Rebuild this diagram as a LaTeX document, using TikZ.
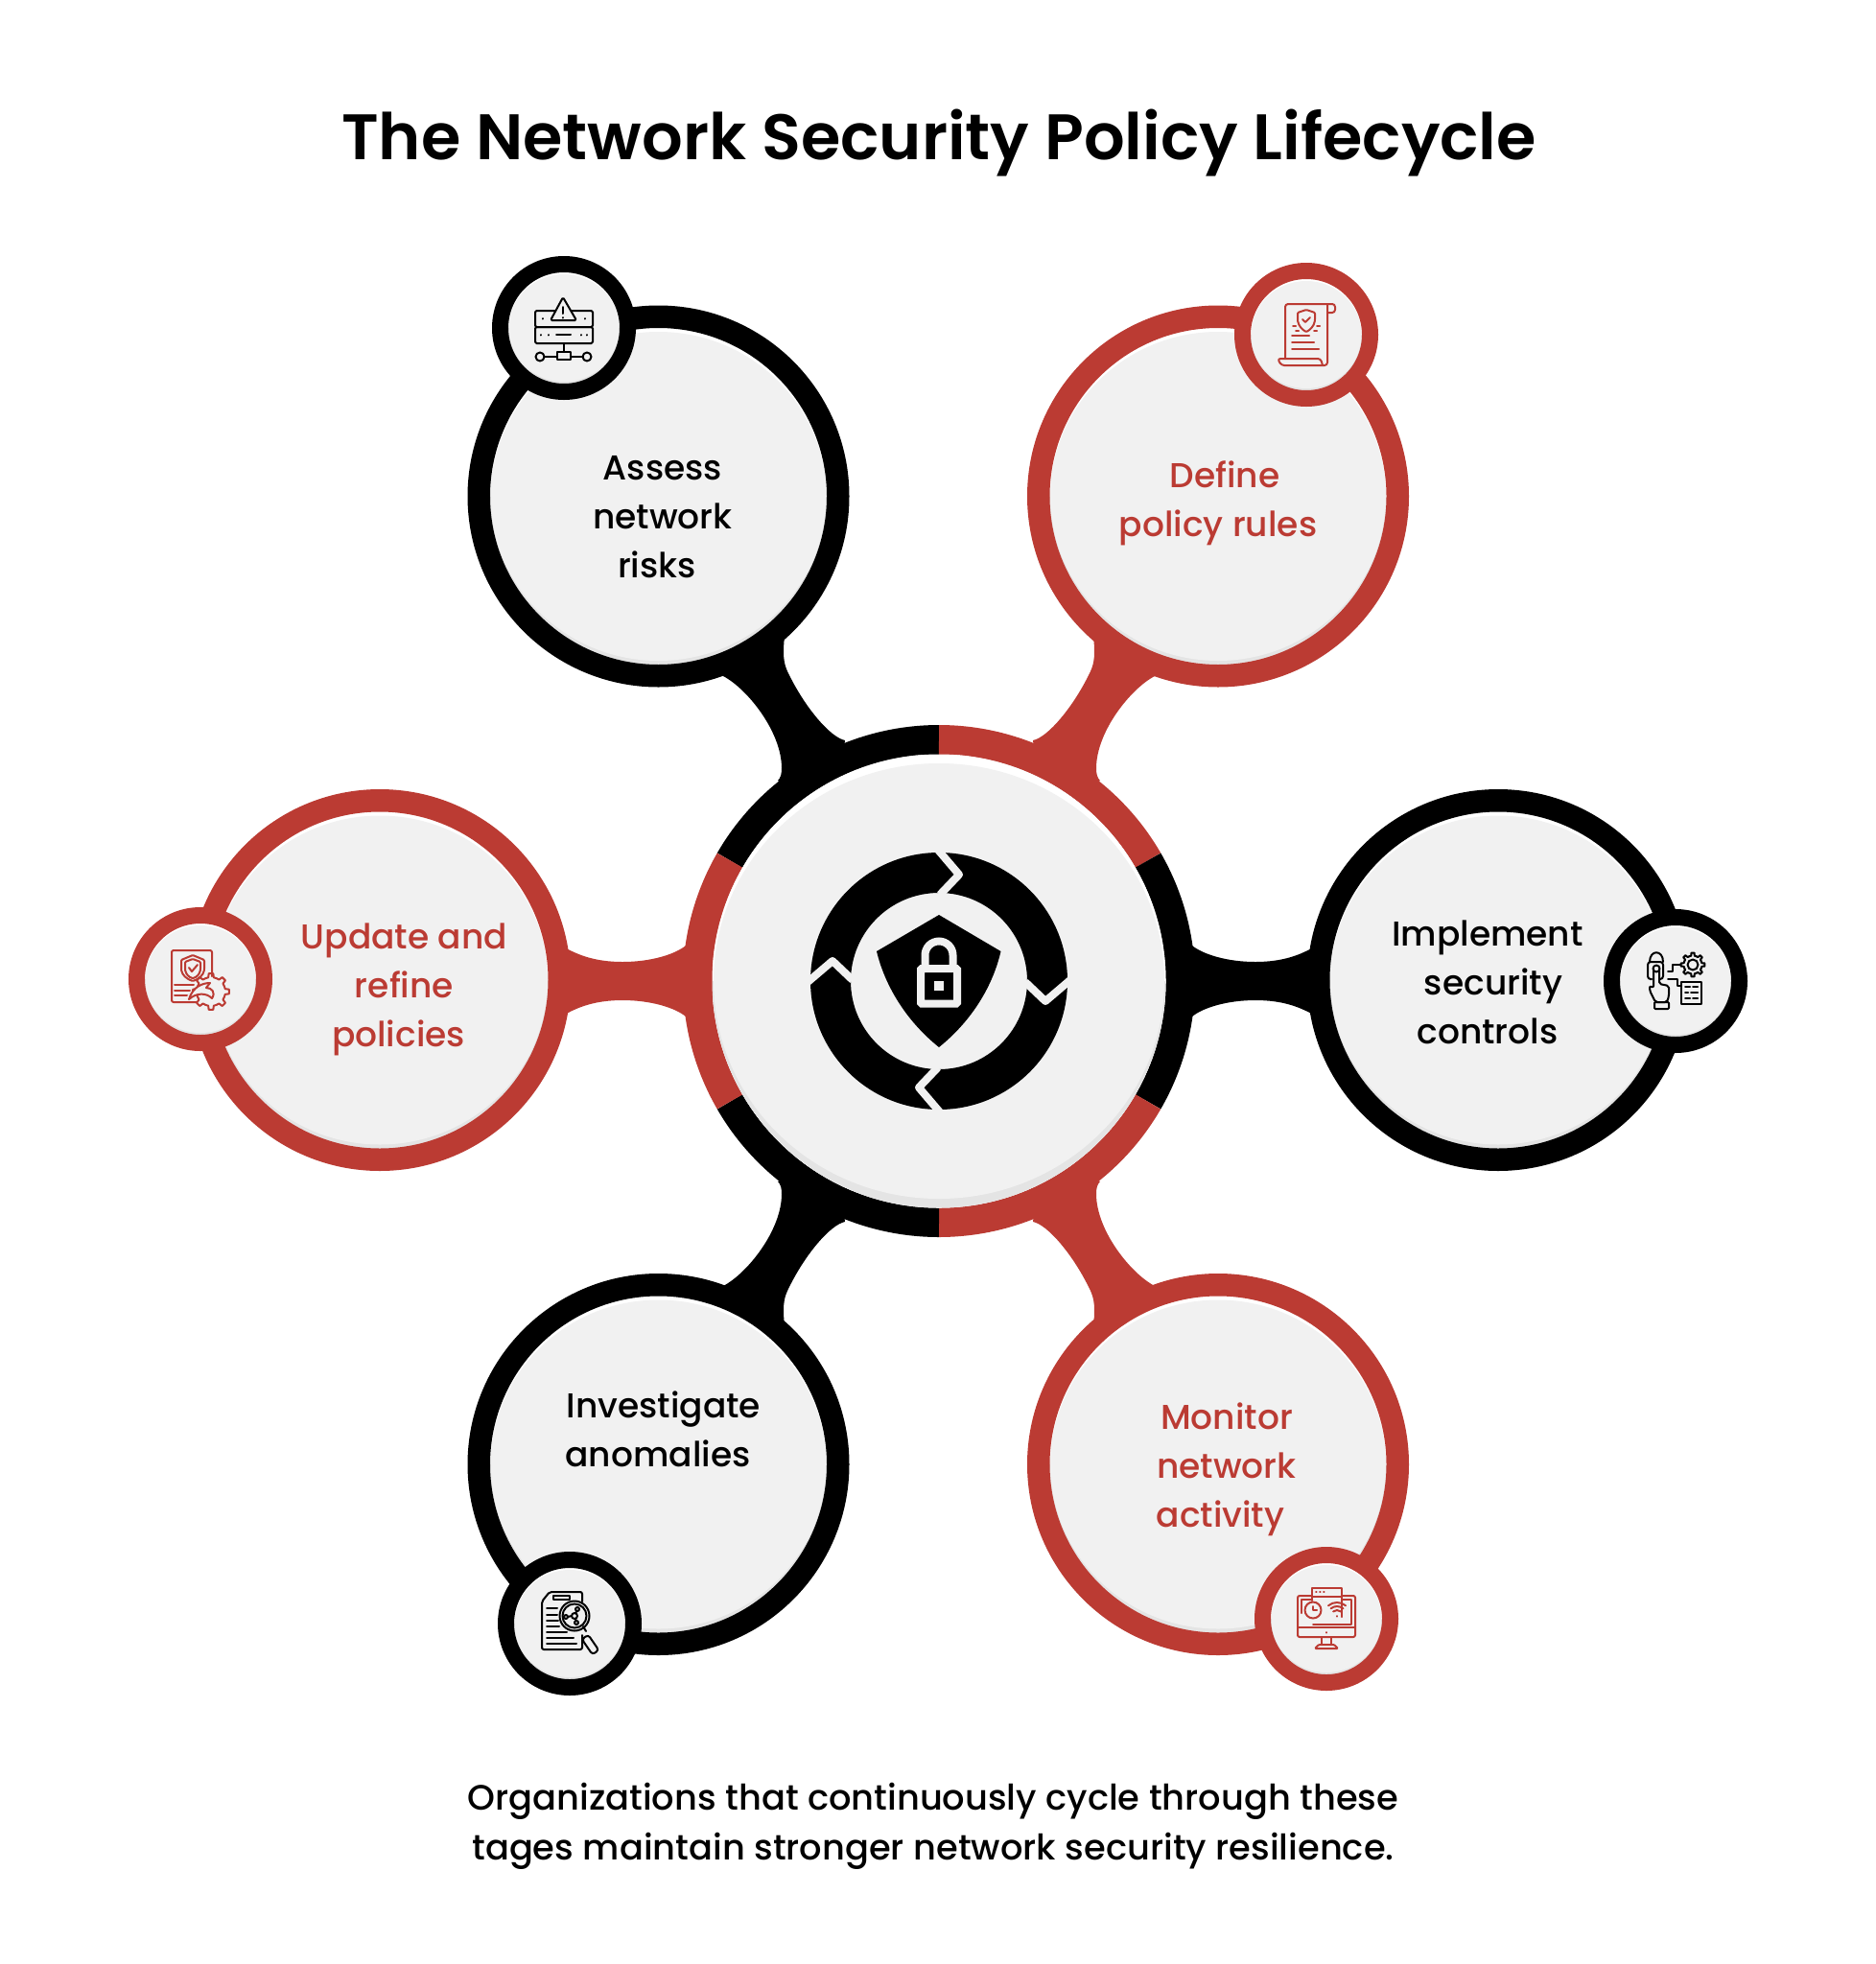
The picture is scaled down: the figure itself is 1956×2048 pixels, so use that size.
\documentclass[tikz,border=0pt]{standalone}
\usepackage{xcolor}
\usepackage{fontspec}
\newfontfamily\titlefont{Poppins SemiBold}
\newfontfamily\labelfont{Poppins Medium}
\definecolor{netred}{HTML}{BB3B33}
\definecolor{discgrey}{HTML}{F1F1F1}
\definecolor{discshade}{HTML}{E4E4E4}
\newcommand{\nudge}[2]{\hspace*{#1pt}#2}
\newcommand{\gearicon}[4]{%
	\begin{scope}[shift={(#1,#2)}]
		\fill[discgrey] (0,0) circle (#3);
		\foreach \a in {0,45,...,315}
			\draw[iconline] (\a-22.5:#3) -- (\a-11:#3) -- (\a-7:#4) -- (\a+7:#4) -- (\a+11:#3) -- (\a+22.5:#3);
	\end{scope}
}
\tikzset{
	% x radius and y radius of the flat top of a disc
	disc/.style n args={2}{circle, inner sep=0pt, fill=discgrey, path picture={
		\fill[white] (path picture bounding box.south west) rectangle (path picture bounding box.north east);
		\fill[discshade] (path picture bounding box.west) rectangle (path picture bounding box.south east);
		\fill[discgrey] (path picture bounding box.center) ellipse [x radius=#1pt, y radius=#2pt];
	}},
	satring/.style={disc={175}{171.5}, minimum size=374.5pt, line width=23.5pt, draw=#1},
	iconring/.style={disc={57.5}{56}, minimum size=133pt, line width=17pt, draw=#1},
	steplabel/.style={align=center, font=\labelfont\fontsize{36}{51}\selectfont, text=#1},
	iconline/.style={line width=2pt, line join=round, line cap=round},
	pics/riskicon/.style={code={
		\draw[iconline, rounded corners=1.5pt] (-30,-18) rectangle (30,-1);
		\draw[iconline, rounded corners=1.5pt] (-30,-1) rectangle (30,16);
		\draw[iconline, fill=discgrey, rounded corners=1.5pt] (-1,-32) -- (-14,-8) -- (13,-8) -- cycle;
		\draw[iconline] (-1,-22) -- (-1,-15) (-1,-11) -- (-1,-10.5);
		\draw[iconline] (-22,-10) -- (-22,-9.5) (22,-10) -- (22,-9.5) (-24,7) -- (-24,7.5) (-16,7) -- (-16,7.5) (18,7) -- (18,7.5) (24,7) -- (24,7.5);
		\draw[iconline] (-8,7) -- (7,7);
		\draw[iconline] (0,16) -- (0,25);
		\draw[iconline] (-7,25) rectangle (7,33);
		\draw[iconline] (-20,30) -- (-7,30) (7,30) -- (20,30);
		\draw[iconline] (-25,30) circle (4.5) (24,30) circle (4.5);
	}},
	pics/scrollicon/.style={code={
		\draw[iconline, rounded corners=3pt] (-22,25) -- (-22,-32) -- (30,-32) -- (30,-23) -- (22,-23);
		\draw[iconline, rounded corners=3pt] (22,-32) -- (22,32) -- (-26,32) -- (-30,25) -- (15,25) -- (17,32);
		\draw[iconline, rounded corners=1pt] (0,-26) -- (-9,-23) -- (-9,-15) .. controls (-8,-9) and (-4,-5) .. (0,-3) .. controls (4,-5) and (8,-9) .. (9,-15) -- (9,-23) -- cycle;
		\draw[iconline] (-4,-16) -- (-1,-13) -- (4,-18);
		\draw[iconline] (-14,-9) -- (-11,-9) (11,-9) -- (14,-9) (-11,-4) -- (-8,-4) (8,-4) -- (11,-4);
		\draw[iconline] (-15,1) -- (3,1) (-15,8) -- (8,8) (-15,15) -- (13,15);
	}},
	pics/controlicon/.style={code={
		\draw[iconline, rounded corners=3pt] (-17,-2) -- (-13,-2) -- (-13,-20) -- (-29,-20) -- (-29,-2) -- (-25,-2);
		\draw[iconline] (-27,-20) .. controls (-27,-33) and (-13,-33) .. (-13,-20);
		\draw[iconline] (-20,-13) circle (3.5);
		\draw[iconline, rounded corners=2pt] (-23,-12) -- (-23,7) -- (-27,5) -- (-27,10) -- (-21,22) -- (-9,22) -- (-7,16) -- (-7,5) -- (-17,3) -- (-17,-12);
		\draw[iconline, rounded corners=1pt] (-22,22) rectangle (-7,29);
		\gearicon{18}{-17}{9.5}{12.5}
		\draw[iconline] (18,-17) circle (5.5);
		\draw[iconline] (6,1) rectangle (27,24);
		\draw[iconline] (10,6) -- (15,6) (18,6) -- (23,6) (10,12) -- (13,12) (16,12) -- (23,12) (10,18) -- (15,18) (18,18) -- (23,18);
		\draw[iconline] (-8,-10) -- (-3,-10) -- (-3,-17) -- (5,-17);
		\draw[iconline] (-8,-2) -- (2,-2) -- (2,5) -- (6,5);
	}},
	pics/refineicon/.style={code={
		\draw[iconline, rounded corners=2pt] (12,-3) -- (12,-30) -- (-30,-30) -- (-30,24) -- (-4,24);
		\draw[iconline, rounded corners=1pt] (-8,-25) -- (-20,-20) -- (-20,-10) .. controls (-19,-4) and (-14,0) .. (-8,2) .. controls (-2,0) and (3,-4) .. (4,-10) -- (4,-20) -- cycle;
		\draw[iconline, rounded corners=1pt] (-8,-21) -- (-16,-18) -- (-16,-10) .. controls (-15,-5) and (-12,-2) .. (-8,-1) .. controls (-4,-2) and (-1,-5) .. (0,-10) -- (0,-18) -- cycle;
		\draw[iconline] (-12,-12) -- (-9,-8) -- (-3,-15);
		\draw[iconline] (-27,6) -- (-7,6) (-27,12) -- (-11,12) (-27,17) -- (-14,17);
		\gearicon{11}{13}{15}{19}
		\draw[iconline, fill=discgrey] (-12,21) .. controls (-8,8) and (2,4) .. (10,4) -- (6,9) .. controls (12,9) and (16,14) .. (12,20) .. controls (6,14) and (-4,14) .. (-12,21);
	}},
	pics/screenicon/.style={code={
		\draw[iconline, rounded corners=2pt] (-30,-24) rectangle (30,19);
		\draw[iconline] (-30,9) -- (30,9);
		\draw[iconline] (-26,-6) -- (-26,-20) -- (-15,-20) (16,-20) -- (26,-20) -- (26,6) -- (-14,6);
		\draw[iconline, fill=discgrey] (-15,-23) -- (-15,-32) -- (16,-32) -- (16,-23);
		\draw[iconline] (-15,-23) -- (16,-23) (16,-23) -- (16,-2) (-15,-23) -- (-15,-19);
		\draw[iconline] (-11,-28) -- (-10.5,-28) (-7,-28) -- (-6.5,-28) (-3,-28) -- (-2.5,-28);
		\draw[iconline, fill=discgrey] (-14,-9) circle (8.5);
		\draw[iconline] (-14,-13) -- (-14,-9) -- (-10,-9);
		\draw[iconline] (11,-3) -- (11,-2.5);
		\foreach \r in {6,10,14}
			\draw[iconline] (11,-3) ++(-130:\r) arc[start angle=-130, end angle=-50, radius=\r];
		\draw[iconline] (0,14) -- (0,14.5);
		\draw[iconline] (-5,19) -- (-5,27) (5,19) -- (5,27);
		\draw[iconline, rounded corners=1pt] (-8,27) -- (8,27) -- (12,31) -- (-12,31) -- cycle;
	}},
	pics/searchicon/.style={code={
		\draw[iconline, rounded corners=2pt] (13,-23) -- (13,-33) -- (-21,-33) -- (-29,-23) -- (-29,27) -- (13,27) -- (13,12);
		\draw[iconline] (-17,-29) rectangle (0,-25);
		\draw[iconline] (-24,-16) -- (-13,-16) (-24,-9) -- (-13,-9) (-24,-3) -- (-12,-3) (-24,3) -- (-11,3) (-24,9) -- (-3,9) (-24,15) -- (4,15) (-24,21) -- (7,21);
		\draw[iconline, fill=discgrey] (5,-8) circle (15.5);
		\draw[iconline] (5,-8) circle (12.5);
		\draw[iconline, rounded corners=3pt] (19.3,11.7) -- (30.3,27.7) -- (23.7,32.3) -- (12.7,16.3) -- cycle;
		\draw[iconline] (14,3) -- (17,8);
		\draw[iconline] (5,-8) circle (3) (8,-15) circle (2) (-4,-7) circle (2) (7,-1) circle (2);
		\draw[iconline] (6,-11) -- (7.5,-13) (2,-8) -- (-2,-7) (6,-5) -- (6.7,-3);
	}},
}
\begin{document}
\begin{tikzpicture}[x=1pt, y=-1pt]
	\useasboundingbox (0,0) rectangle (1956,2048);

	\node at (979,149) (title) {\titlefont\fontsize{67}{70}\selectfont The Network Security Policy Lifecycle};

	\begin{scope}[shift={(979,1023)}]
		% necks first, everything else sits on top of them
		\foreach \sx/\sy/\col in {1/1/black, -1/1/netred, -1/-1/netred, 1/-1/black}
			\fill[\col, xscale=\sx, yscale=\sy] (-98,-251) .. controls (-113,-254) and (-140,-285) .. (-158,-323) .. controls (-162,-332) and (-163,-340) .. (-161,-360) -- (-230,-330) -- (-225,-318) .. controls (-200,-305) and (-164,-260) .. (-164,-222) .. controls (-164,-216) and (-165,-212) .. (-168,-209) -- (-150,-200) -- (-100,-235) -- cycle;
		\foreach \sx/\col in {1/black, -1/netred}
			\fill[\col, xscale=\sx] (255,-38) -- (264,-37) .. controls (275,-28) and (300,-20) .. (330,-20) .. controls (360,-20) and (378,-28) .. (392,-36) -- (400,-36) -- (400,36) -- (392,36) .. controls (378,28) and (360,20) .. (330,20) .. controls (300,20) and (275,28) .. (264,37) -- (255,38) -- cycle;

		\foreach \a/\col in {-150/black, -90/netred, -30/black, 30/netred, 90/black, 150/netred}
			\draw[\col, line width=31pt] (\a:251.5) arc[start angle=\a, end angle=\a+60, radius=251.5];

		\node[disc={235}{227}, minimum size=473pt] at (0,0) (hub) {};

		% icon in the hub
		\foreach \a in {0,90,180,270}
			\fill[black, rotate=\a] (0,-134) arc[start angle=-90, end angle=0, radius=134] -- (92,0) arc[start angle=0, end angle=-90, radius=92] -- cycle;
		\foreach \a in {0,90,180,270}
			\draw[discgrey, line width=8pt, line join=round, rotate=\a] (-2,-138) -- (21,-111) -- (1,-90);
		\fill[black] (0,-69) -- (64.5,-31) .. controls (55,10) and (30,45) .. (0,69) .. controls (-30,45) and (-55,10) .. (-65,-31) -- cycle;
		\draw[discgrey, line width=8pt] (-14.5,-17) -- (-14.5,-27) arc[start angle=180, end angle=360, radius=14.5] -- (14.5,-17);
		\draw[discgrey, line width=8pt, rounded corners=1pt] (-19,-13) rectangle (19,23.5);
		\fill[discgrey] (-5,0) rectangle (5,9.5);
	\end{scope}

	\node[satring=black] at (686.5,517.5) (assess) {};
	\node[satring=netred] at (1270,517.5) (define) {};
	\node[satring=black] at (1562,1022) (implement) {};
	\node[satring=netred] at (396,1022) (update) {};
	\node[satring=black] at (686.5,1527) (investigate) {};
	\node[satring=netred] at (1270,1527) (monitor) {};

	\node[iconring=black] at (588,342) (assessicon) {};
	\node[iconring=netred] at (1362,349) (defineicon) {};
	\node[iconring=black] at (1747,1023) (implementicon) {};
	\node[iconring=netred] at (209,1021) (updateicon) {};
	\node[iconring=black] at (594,1693) (investigateicon) {};
	\node[iconring=netred] at (1383,1688) (monitoricon) {};

	\pic[color=black] at (assessicon.center) {riskicon};
	\pic[color=netred] at (defineicon.center) {scrollicon};
	\pic[color=black] at (implementicon.center) {controlicon};
	\pic[color=netred] at (updateicon.center) {refineicon};
	\pic[color=black] at (investigateicon.center) {searchicon};
	\pic[color=netred] at (monitoricon.center) {screenicon};

	\node[steplabel=black] at (689,539) (assesstext) {\nudge{4}{Assess}\\\nudge{4}{network}\\\nudge{-8}{risks}};
	\node[steplabel=netred] at (1270,525) (definetext) {\nudge{14}{Define}\\policy rules};
	\node[steplabel=black] at (1551,1024) (implementtext) {Implement\\\nudge{12}{security}\\controls};
	\node[steplabel=netred] at (420,1032) (updatetext) {\nudge{3}{Update and}\\\nudge{3}{refine}\\\nudge{-9}{policies}};
	\node[steplabel=black] at (689,1490) (investigatetext) {\nudge{6}{Investigate}\\\nudge{-6}{anomalies}};
	\node[steplabel=netred] at (1277,1532) (monitortext) {\nudge{4}{Monitor}\\\nudge{4}{network}\\\nudge{-9}{activity}};

	\node[align=center, font=\labelfont\fontsize{36.8}{52}\selectfont] at (973,1904) (closing) {Organizations that continuously cycle through these\\tages maintain stronger network security resilience.};
\end{tikzpicture}
\end{document}
